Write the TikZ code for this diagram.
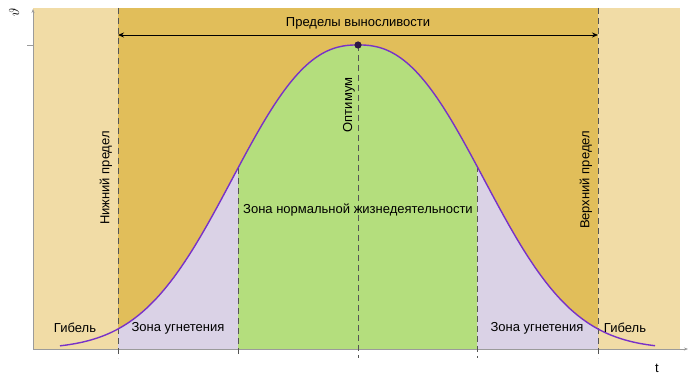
\documentclass[tikz,border=0pt]{standalone}
\usepackage{fontspec}
\setmainfont{Liberation Sans}
\usetikzlibrary{arrows.meta}
\definecolor{tanc}{RGB}{241,220,166}
\definecolor{goldc}{RGB}{225,190,90}
\definecolor{greenc}{RGB}{180,222,125}
\definecolor{lavc}{RGB}{218,210,230}
\definecolor{curvec}{RGB}{120,50,200}
\definecolor{dotc}{RGB}{45,25,70}
\definecolor{axisc}{RGB}{155,155,155}
\definecolor{dashc}{RGB}{85,85,85}
\begin{document}
\begin{tikzpicture}[x=1pt,y=-1pt,
  declare function={cy(\x)=349-304*exp(-0.519*pow((abs(\x-358)+0.01)/120,2.39));},
  lbl/.style={font=\fontsize{13}{15}\selectfont, text=black, inner sep=0pt},
  dline/.style={draw=dashc, line width=1pt, dash pattern=on 6pt off 4pt},
  axisline/.style={draw=axisc, line width=1pt, -{Stealth[length=4pt,width=3pt]}}]
\useasboundingbox (0,0) rectangle (698,382);
% backgrounds
\fill[tanc] (33,8) rectangle (680,349);
\fill[goldc] (118,8) rectangle (598,349);
\fill[lavc] plot[domain=118:238, samples=60] (\x,{cy(\x)}) -- (238,349) -- (118,349) -- cycle;
\fill[lavc] plot[domain=477:598, samples=60] (\x,{cy(\x)}) -- (598,349) -- (477,349) -- cycle;
\fill[greenc] plot[domain=238:477, samples=120] (\x,{cy(\x)}) -- (477,349) -- (238,349) -- cycle;
% axes
\coordinate (o) at (33,349);
\coordinate (xend) at (688,349);
\coordinate (yend) at (33,9);
\draw[axisline] (o) -- (xend);
\draw[axisline] (o) -- (yend);
\coordinate (tickA) at (27,46);
\coordinate (tickB) at (33,46);
\draw[axisc, line width=1pt] (tickA) -- (tickB);
% dashed lines
\coordinate (l1t) at (118,8);  \coordinate (l1b) at (118,358);
\coordinate (l5t) at (598,8);  \coordinate (l5b) at (598,358);
\coordinate (l2t) at (238,{cy(238)}); \coordinate (l2b) at (238,358);
\coordinate (l4t) at (477,{cy(477)}); \coordinate (l4b) at (477,358);
\coordinate (l3t) at (358,45); \coordinate (l3b) at (358,358);
\draw[dline] (l1t) -- (l1b);
\draw[dline] (l5t) -- (l5b);
\draw[dline] (l2t) -- (l2b);
\draw[dline] (l4t) -- (l4b);
\draw[dline] (l3t) -- (l3b);
% curve
\draw[curvec, line width=1.4pt] plot[domain=60:655, samples=240] (\x,{cy(\x)});
\fill[dotc] (l3t) circle (3.6pt);
% arrow of limits
\coordinate (aL) at (118,35);
\coordinate (aR) at (598,35);
\draw[black, line width=0.8pt, {Stealth[length=6pt,width=5pt]}-{Stealth[length=6pt,width=5pt]}] (aL) -- (aR);
% labels
\node[lbl] (lim) at (358,23) {Пределы выносливости};
\node[lbl] (g1) at (75,328) {Гибель};
\node[lbl] (g2) at (625,328) {Гибель};
\node[lbl] (z1) at (178,328) {Зона угнетения};
\node[lbl] (z2) at (537,328) {Зона угнетения};
\node[lbl] (zn) at (358,210) {Зона нормальной жизнедеятельности};
\node[lbl, rotate=90] (opt) at (349,105) {Оптимум};
\node[lbl, rotate=90] (low) at (106,178) {Нижний предел};
\node[lbl, rotate=90] (up) at (586,180) {Верхний предел};
\node[lbl] (tl) at (657,368) {t};
\node[lbl, rotate=90, font=\fontsize{15}{17}\selectfont] (th) at (14,12) {$\vartheta$};
\end{tikzpicture}
\end{document}
